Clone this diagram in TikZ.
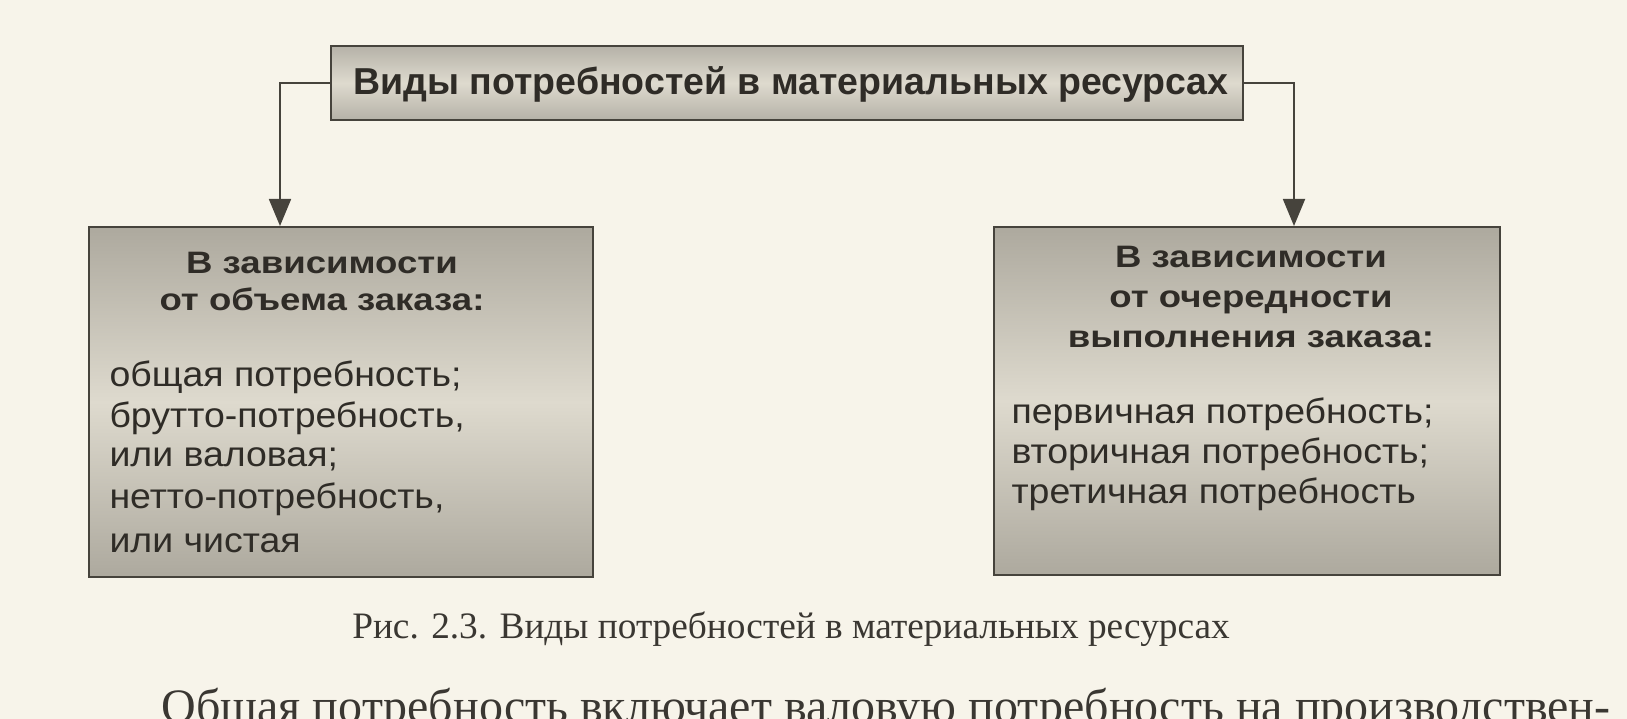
\documentclass[tikz,border=0pt]{standalone}
\usepackage{fontspec}
\setmainfont{Liberation Serif}
\newfontfamily\titlefont{Liberation Sans}
\newfontfamily\headfont[FakeStretch=1.18]{Liberation Sans}
\newfontfamily\bodyfont[FakeStretch=1.07]{Liberation Sans}
\usetikzlibrary{arrows.meta}
\definecolor{paper}{HTML}{F7F4EA}
\definecolor{boxdark}{HTML}{ADA99E}
\definecolor{boxlight}{HTML}{DEDACE}
\definecolor{inkline}{HTML}{46433C}
\definecolor{inktext}{HTML}{2F2C27}
\definecolor{printink}{HTML}{3A3732}

\begin{document}
\begin{tikzpicture}[x=1pt,y=-1pt,
  kindbox/.style={draw=inkline, line width=1.8pt, top color=boxdark, bottom color=boxdark,
    middle color=boxlight, inner sep=0pt, anchor=north west},
  titlebox/.style={draw=inkline, line width=1.8pt, top color=boxdark!90, bottom color=boxdark!90,
    middle color=boxlight, inner sep=0pt, anchor=north west},
  link/.style={draw=inkline, line width=1.8pt, -{Triangle[length=27pt,width=22pt]}},
  titletext/.style={text=inktext, font=\titlefont\bfseries\fontsize{37.5}{44}\selectfont, anchor=base},
  headtext/.style={text=inktext, font=\headfont\bfseries\fontsize{31}{37}\selectfont, anchor=base},
  bodytext/.style={text=inktext, font=\bodyfont\fontsize{35}{38}\selectfont, anchor=base west},
  printtext/.style={text=printink, anchor=base}]
  % page
  \fill[paper] (0,0) rectangle (1627,719);
  \useasboundingbox (0,0) rectangle (1627,719);

  % boxes
  \node[titlebox, minimum width=912pt, minimum height=74pt] (kinds) at (330,45) {};
  \node[titletext] (kindstext) at (791,95) {Виды потребностей в материальных ресурсах};
  \node[kindbox, minimum width=504pt, minimum height=350pt] (volbox) at (88,226) {};
  \node[kindbox, minimum width=506pt, minimum height=348pt] (turnbox) at (993,226) {};

  % connectors
  \coordinate (lturn) at (280,83);
  \coordinate (rturn) at (1294,83);
  \draw[link] (kinds.west |- lturn) -- (lturn) -- (lturn |- volbox.north);
  \draw[link] (kinds.east |- rturn) -- (rturn) -- (rturn |- turnbox.north);

  % left box text
  \node[headtext] (volhead1) at (322,273) {В зависимости};
  \node[headtext] (volhead2) at (322,310) {от объема заказа:};
  \foreach \yy/\txt [count=\i] in {386/общая потребность;, 427/{брутто-потребность,},
      466/или валовая;, 508/{нетто-потребность,}, 552/или чистая}
    \node[bodytext] (volitem\i) at (106,\yy) {\txt};

  % right box text
  \node[headtext] (turnhead1) at (1251,268) {В зависимости};
  \node[headtext] (turnhead2) at (1251,307) {от очередности};
  \node[headtext] (turnhead3) at (1251,347) {выполнения заказа:};
  \foreach \txt [count=\i] in {первичная потребность;, вторичная потребность;, третичная потребность}
    \node[bodytext] (turnitem\i) at (1008,383+40*\i) {\txt};

  % caption and text below
  \node[printtext, font=\fontsize{37.3}{41}\selectfont] (caption) at (791,638)
    {Рис. 2.3. Виды потребностей в материальных ресурсах};
  \node[printtext, anchor=base west, font=\fontsize{48}{52}\selectfont] (para) at (158,722)
    {Общая потребность включает валовую потребность на производствен-};
\end{tikzpicture}
\end{document}
